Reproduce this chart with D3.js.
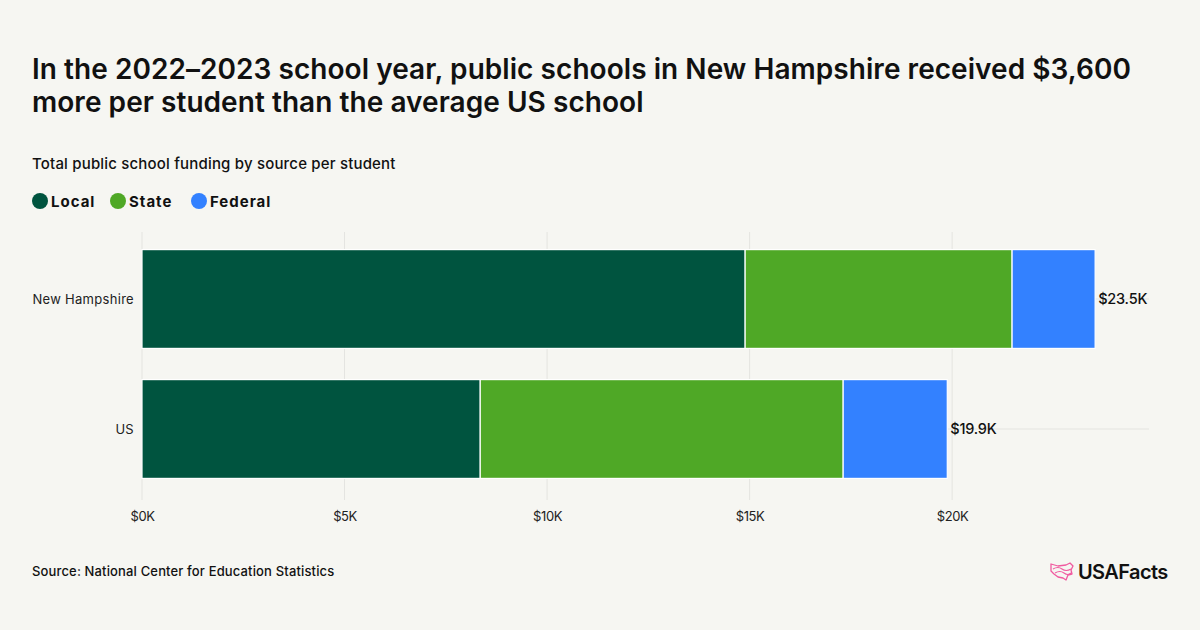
<!DOCTYPE html>
<html>
<head>
<meta charset="utf-8">
<script src="https://cdn.jsdelivr.net/npm/d3@7"></script>
<style>
  body { margin: 0; background: #f6f6f2; }
  svg { display: block; font-family: Inter, "Noto Sans", sans-serif; }
</style>
</head>
<body>
<svg id="chart" width="1200" height="630"></svg>
<script>
// data
const categories = ['New Hampshire', 'US'];
const sources = ['Local', 'State', 'Federal'];
const local = [14890, 8350];
const state = [6590, 8960];
const federal = [2050, 2570];
const totalLabels = ['$23.5K', '$19.9K'];
const xTicks = [0, 5000, 10000, 15000, 20000];

const colors = d3.scaleOrdinal(sources, ['#00543f', '#4fa826', '#3381ff']);

const svg = d3.select('#chart');
const W = 1200, H = 630;
svg.append('rect').attr('width', W).attr('height', H).attr('fill', '#f6f6f2');

// title
const title = svg.append('text')
  .attr('x', 32).attr('y', 79)
  .attr('font-size', 28).attr('font-weight', 600)
  .attr('letter-spacing', 0.05)
  .attr('fill', '#111');
title.append('tspan').attr('x', 32).text('In the 2022–2023 school year, public schools in New Hampshire received $3,600');
title.append('tspan').attr('x', 32).attr('dy', 33).text('more per student than the average US school');

svg.append('text')
  .attr('x', 32).attr('y', 169)
  .attr('font-size', 15).attr('font-weight', 500)
  .attr('letter-spacing', 0.18)
  .attr('fill', '#111')
  .text('Total public school funding by source per student');

// legend
const legendX = [40, 118, 199];
const lg = svg.append('g').selectAll('g').data(sources).join('g')
  .attr('transform', (d, i) => `translate(${legendX[i]},201)`);
lg.append('circle').attr('r', 8).attr('fill', d => colors(d));
lg.append('text').attr('x', 11).attr('y', 5.5)
  .attr('font-size', 15).attr('font-weight', 700)
  .attr('letter-spacing', 1.0).attr('fill', '#111')
  .text(d => d);

// scales
const x = d3.scaleLinear().domain([0, 24860]).range([142, 1149]);
const y = d3.scaleBand().domain(categories).range([234, 494]).paddingInner(0.24).paddingOuter(0.12);

// grid
svg.append('g').selectAll('line').data(xTicks).join('line')
  .attr('x1', d => x(d)).attr('x2', d => x(d))
  .attr('y1', 232).attr('y2', 500)
  .attr('stroke', '#e4e4e0').attr('stroke-width', 1);
svg.append('g').selectAll('line').data(categories).join('line')
  .attr('x1', x(0)).attr('x2', x.range()[1])
  .attr('y1', d => y(d) + y.bandwidth() / 2).attr('y2', d => y(d) + y.bandwidth() / 2)
  .attr('stroke', '#e4e4e0').attr('stroke-width', 1);

// stacked bars
const rows = categories.map((c, i) => ({ cat: c, Local: local[i], State: state[i], Federal: federal[i] }));
const stack = d3.stack().keys(sources)(rows);
svg.append('g').selectAll('g').data(stack).join('g')
  .attr('fill', d => colors(d.key))
  .selectAll('rect').data(d => d).join('rect')
  .attr('x', d => x(d[0]))
  .attr('width', d => x(d[1]) - x(d[0]))
  .attr('y', d => y(d.data.cat))
  .attr('height', y.bandwidth())
  .attr('stroke', '#ffffff').attr('stroke-width', 1.2);

// total labels
svg.append('g').selectAll('text').data(rows).join('text')
  .attr('x', (d, i) => x(d.Local + d.State + d.Federal) + 3)
  .attr('y', d => y(d.cat) + y.bandwidth() / 2 + 5)
  .attr('font-size', 14.5).attr('font-weight', 500).attr('letter-spacing', -0.2)
  .attr('fill', '#111')
  .text((d, i) => totalLabels[i]);

// y axis labels
svg.append('g').selectAll('text').data(categories).join('text')
  .attr('x', 134).attr('y', d => y(d) + y.bandwidth() / 2 + 5)
  .attr('text-anchor', 'end').attr('font-size', 13).attr('letter-spacing', 0.3).attr('fill', '#222')
  .text(d => d);

// x axis
const xAxis = svg.append('g').attr('transform', 'translate(0,500)')
  .call(d3.axisBottom(x).tickValues(xTicks).tickSize(0).tickPadding(12)
    .tickFormat(d => '$' + d / 1000 + 'K'));
xAxis.select('.domain').remove();
xAxis.selectAll('text').attr('font-size', 13).attr('fill', '#222').attr('letter-spacing', -0.4)
  .attr('font-family', 'Inter, "Noto Sans", sans-serif');

// footer
svg.append('text')
  .attr('x', 32).attr('y', 576)
  .attr('font-size', 13).attr('font-weight', 500).attr('letter-spacing', 0.15)
  .attr('fill', '#111')
  .text('Source: National Center for Education Statistics');

// logo
const logo = svg.append('g').attr('transform', 'translate(1050,562)');
logo.append('path')
  .attr('d', 'M1,2 L8,4 L16,3 L20,1 L23,4 L21,8 L22,12 L18,13 L16,18 L13,16 L8,15 L4,12 L1,9 Z')
  .attr('fill', 'none').attr('stroke', '#f05aa0').attr('stroke-width', 1.3).attr('stroke-linejoin', 'round');
logo.append('path')
  .attr('d', 'M3,7 Q8,4 12,7 T21,7 M5,11 Q10,8 14,11 T21,11')
  .attr('fill', 'none').attr('stroke', '#f05aa0').attr('stroke-width', 1.1);
svg.append('text')
  .attr('x', 1078).attr('y', 579)
  .attr('font-size', 20).attr('font-weight', 600).attr('letter-spacing', -0.6)
  .attr('fill', '#111')
  .text('USAFacts');
</script>
</body>
</html>
